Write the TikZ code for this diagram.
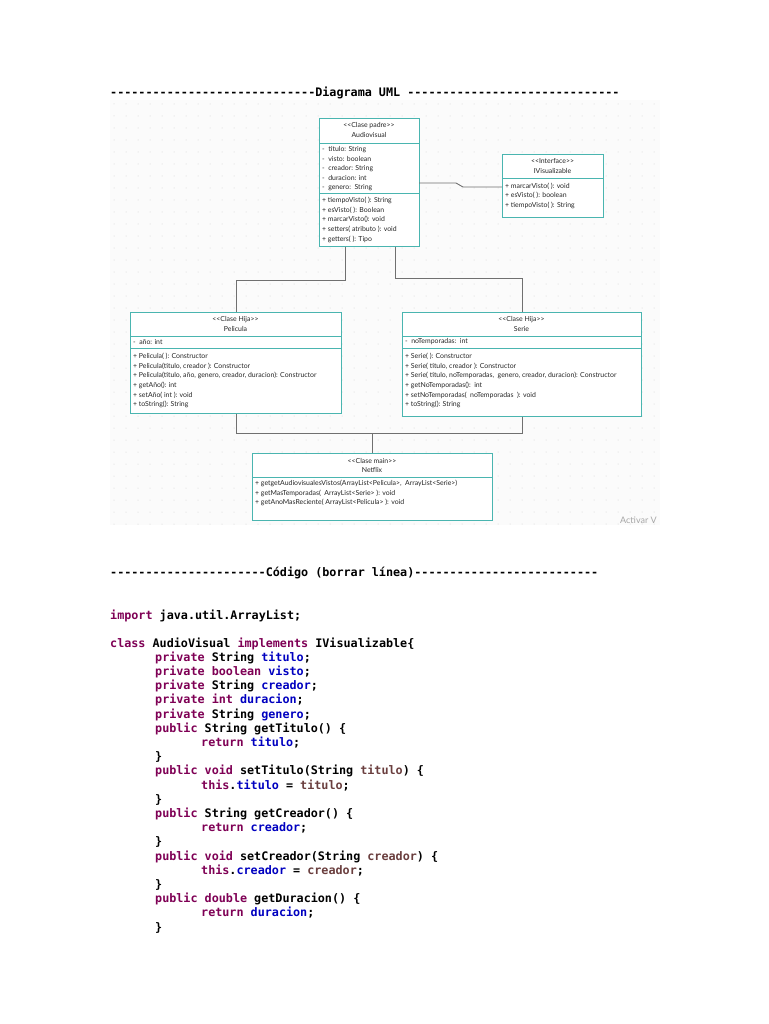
\documentclass[tikz,border=0pt]{standalone}
\usepackage{fontspec}
\setmainfont{Lato}
\setmonofont{DejaVu Sans Mono}
\usetikzlibrary{calc}
\definecolor{kw}{HTML}{7F0055}
\definecolor{fd}{HTML}{0000C0}
\definecolor{pa}{HTML}{6A3E3E}
\definecolor{teal}{HTML}{4AB5B0}
\definecolor{conn}{HTML}{707070}
\newcommand{\kwd}[1]{\textcolor{kw}{#1}}
\newcommand{\fld}[1]{\textcolor{fd}{#1}}
\newcommand{\prm}[1]{\textcolor{pa}{#1}}
\newcommand{\stl}{{<}{<}}
\newcommand{\stg}{{>}{>}}
\begin{document}
\begin{tikzpicture}[x=1pt,y=-1pt,
  code/.style={anchor=base west,inner sep=0,font=\ttfamily\bfseries\fontsize{11.75}{12}\selectfont},
  box/.style={draw=teal,line width=0.9pt,fill=white,anchor=north west,inner sep=0},
  ut/.style={anchor=west,inner sep=0,font=\fontsize{6.9}{7}\selectfont,text=black!85},
  uh/.style={anchor=center,inner sep=0,font=\fontsize{6.9}{7}\selectfont,text=black!85},
  div/.style={draw=teal,line width=0.7pt},
  cn/.style={draw=conn,line width=0.9pt}]
\useasboundingbox (0,0) rectangle (768,1024);
\fill[white] (0,0) rectangle (768,1024);
\fill[black!1.5] (110,100) rectangle (660,525);
\foreach \i in {0,...,45}{\foreach \j in {0,...,35}{\fill[black!18] (114+\i*12,104+\j*12) circle (0.5);}}
\node[code] (t1) at (110,97) {-----------------------------Diagrama UML ------------------------------};

\node[box,minimum width=100,minimum height=128] (aud) at (319,118) {};
\node[box,minimum width=101,minimum height=63] (ivis) at (502,154) {};
\node[box,minimum width=211,minimum height=101] (pel) at (130,312) {};
\node[box,minimum width=239,minimum height=104] (ser) at (402,312) {};
\node[box,minimum width=240,minimum height=67] (net) at (252,453) {};

\coordinate (a1) at (419,183); \coordinate (a2) at (456,183); \coordinate (a3) at (463,187);
\draw[cn] (a1) -- (a2) -- (a3) -- (ivis.west |- a3);
\draw[cn] ($(aud.south)+(-24,0)$) |- (236,280) -- (pel.north -| 236,0);
\draw[cn] ($(aud.south)+(26,0)$) |- (522,278) -- (ser.north -| 522,0);
\draw[cn] (pel.south -| 236,0) |- (372,433);
\draw[cn] (ser.south -| 522,0) |- (372,433) -- (net.north -| 372,0);

\draw[div] (319,143) -- (419,143); \draw[div] (319,193) -- (419,193);
\node[uh] (aud1) at (369,125.5) {\stl Clase padre\stg};
\node[uh] (aud2) at (369,135) {Audiovisual};
\foreach \t [count=\k] in {-\ \ titulo: String,-\ \ visto: boolean,-\ \ creador: String,-\ \ duracion: int,-\ \ genero:\ \ String}
  \node[ut] at (322,140+\k*9.6) {\t};
\foreach \t [count=\k] in {+ tiempoVisto( ): String,+ esVisto( ): Boolean,+ marcarVisto(): void,+ setters( atributo ): void,+ getters( ): Tipo}
  \node[ut] at (322,191+\k*9.6) {\t};

\draw[div] (502,178) -- (603,178);
\node[uh] (iv1) at (552.5,161.5) {\stl Interface\stg};
\node[uh] (iv2) at (552.5,171) {IVisualizable};
\foreach \t [count=\k] in {+ marcarVisto( ): void,+ esVisto( ): boolean,+ tiempoVisto( ): String}
  \node[ut] at (505,176.5+\k*9.6) {\t};

\draw[div] (130,336) -- (341,336); \draw[div] (130,348) -- (341,348);
\node[uh] (pe1) at (235.5,320) {\stl Clase Hija\stg};
\node[uh] (pe2) at (235.5,329) {Pelicula};
\node[ut] at (133,342) {-\ \ año: int};
\foreach \t [count=\k] in {+ Pelicula( ): Constructor,+ Pelicula(titulo{,} creador ): Constructor,+ Pelicula(titulo{,} año{,} genero{,} creador{,} duracion): Constructor,+ getAño(): int,+ setAño( int ): void,+ toString(): String}
  \node[ut] at (133,347+\k*9.6) {\t};

\draw[div] (402,336) -- (641,336); \draw[div] (402,348) -- (641,348);
\node[uh] (se1) at (521.5,320) {\stl Clase Hija\stg};
\node[uh] (se2) at (521.5,329) {Serie};
\node[ut] at (405,342) {-\ \ noTemporadas:\ \ int};
\foreach \t [count=\k] in {+ Serie( ): Constructor,+ Serie( titulo{,} creador ): Constructor,+ Serie( titulo{,} noTemporadas{,}\ \ genero{,} creador{,} duracion): Constructor,+ getNoTemporadas():\ \ int,+ setNoTemporadas(\ \ noTemporadas\ \ ): void,+ toString(): String}
  \node[ut] at (405,347+\k*9.6) {\t};

\draw[div] (252,477) -- (492,477);
\node[uh] (ne1) at (372,461) {\stl Clase main\stg};
\node[uh] (ne2) at (372,470) {Netflix};
\foreach \t [count=\k] in {+ getgetAudiovisualesVistos(ArrayList<Pelicula>{,}\ \ ArrayList<Serie>),+ getMasTemporadas(\ \ ArrayList<Serie> ): void,+ getAnoMasReciente( ArrayList<Pelicula> ): void}
  \node[ut] at (255,474+\k*9.6) {\t};
\node[anchor=west,inner sep=0,font=\fontsize{9}{10}\selectfont,text=black!35] (act) at (620,520) {Activar V};

\node[code] (t2) at (110,576) {----------------------Código (borrar línea)--------------------------};
\def\ia{\hspace*{45pt}}\def\ib{\hspace*{91pt}}
\node[code] (c0) at (110,619) {\kwd{import} java.util.ArrayList;};
\node[code] (c1) at (110,647) {\kwd{class} AudioVisual \kwd{implements} IVisualizable\{};
\node[code] (c2) at (110,661.2) {\ia\kwd{private} String \fld{titulo};};
\node[code] (c3) at (110,675.4) {\ia\kwd{private} \kwd{boolean} \fld{visto};};
\node[code] (c4) at (110,689.6) {\ia\kwd{private} String \fld{creador};};
\node[code] (c5) at (110,703.8) {\ia\kwd{private} \kwd{int} \fld{duracion};};
\node[code] (c6) at (110,718) {\ia\kwd{private} String \fld{genero};};
\node[code] (c7) at (110,732.2) {\ia\kwd{public} String getTitulo() \{};
\node[code] (c8) at (110,746.4) {\ib\kwd{return} \fld{titulo};};
\node[code] (c9) at (110,760.6) {\ia\}};
\node[code] (c10) at (110,774.8) {\ia\kwd{public} \kwd{void} setTitulo(String \prm{titulo}) \{};
\node[code] (c11) at (110,789) {\ib\kwd{this}.\fld{titulo} = \prm{titulo};};
\node[code] (c12) at (110,803.2) {\ia\}};
\node[code] (c13) at (110,817.4) {\ia\kwd{public} String getCreador() \{};
\node[code] (c14) at (110,831.6) {\ib\kwd{return} \fld{creador};};
\node[code] (c15) at (110,845.8) {\ia\}};
\node[code] (c16) at (110,860) {\ia\kwd{public} \kwd{void} setCreador(String \prm{creador}) \{};
\node[code] (c17) at (110,874.2) {\ib\kwd{this}.\fld{creador} = \prm{creador};};
\node[code] (c18) at (110,888.4) {\ia\}};
\node[code] (c19) at (110,902.6) {\ia\kwd{public} \kwd{double} getDuracion() \{};
\node[code] (c20) at (110,916.8) {\ib\kwd{return} \fld{duracion};};
\node[code] (c21) at (110,931) {\ia\}};
\end{tikzpicture}
\end{document}
